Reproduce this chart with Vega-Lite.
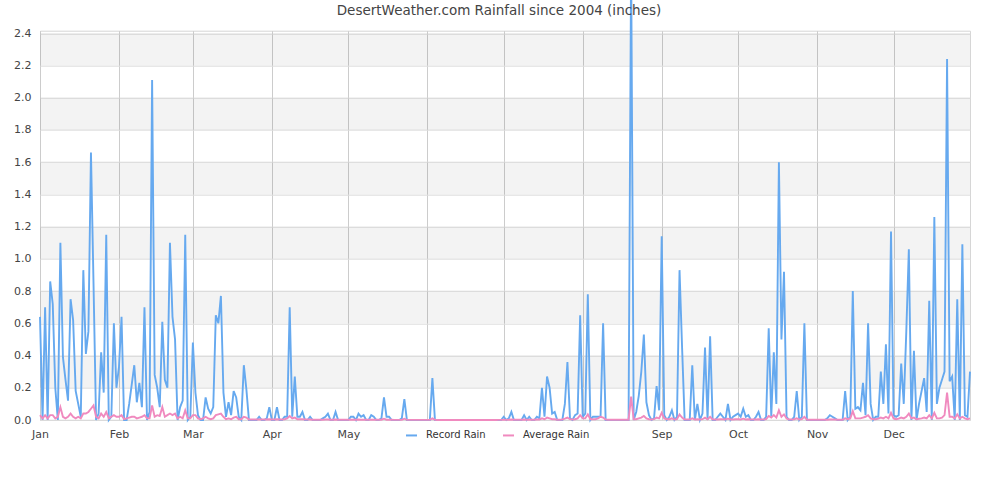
{
"$schema":"https://vega.github.io/schema/vega-lite/v6.json",
"width":930,"height":389.3,
"autosize":{"type":"none"},
"padding":{"left":40,"top":30.7,"right":30,"bottom":80},
"background":"white",
"config":{"view":{"stroke":"#d6d6d6"},"font":"DejaVu Sans"},
"title":{"text":"DesertWeather.com Rainfall since 2004 (inches)","font":"DejaVu Sans","fontSize":13.5,"fontWeight":"normal","color":"#444444","frame":"group","offset":-61,"dx":-6},
"layer":[
{"data":{"values":[{"lo":0.2,"hi":0.4},{"lo":0.6,"hi":0.8},{"lo":1.0,"hi":1.2},{"lo":1.4,"hi":1.6},{"lo":1.8,"hi":2.0},{"lo":2.2,"hi":2.4}]},
"mark":{"type":"rect","fill":"#000000","fillOpacity":0.046},
"encoding":{"y":{"field":"lo","type":"quantitative","scale":{"domain":[0,2.416],"nice":false},"axis":{"values":[0,0.2,0.4,0.6,0.8,1,1.2,1.4,1.6,1.8,2,2.2,2.4],"format":".1f","title":null,"domain":false,"ticks":false,"labelPadding":9,"gridColor":"#dddddd","labelColor":"#444444","labelFontSize":11,"labelFont":"DejaVu Sans"}},"y2":{"field":"hi"}}},
{"data":{"values":[
{"date":"2004-01-01","record":0.64,"average":0.03},
{"date":"2004-01-02","record":0,"average":0.01},
{"date":"2004-01-03","record":0.70,"average":0.03},
{"date":"2004-01-04","record":0,"average":0.01},
{"date":"2004-01-05","record":0.86,"average":0.03},
{"date":"2004-01-06","record":0.72,"average":0.03},
{"date":"2004-01-07","record":0.2,"average":0.01},
{"date":"2004-01-08","record":0,"average":0.02},
{"date":"2004-01-09","record":1.10,"average":0.08},
{"date":"2004-01-10","record":0.39,"average":0.02},
{"date":"2004-01-11","record":0.25,"average":0.01},
{"date":"2004-01-12","record":0.12,"average":0.02},
{"date":"2004-01-13","record":0.75,"average":0.04},
{"date":"2004-01-14","record":0.62,"average":0.02},
{"date":"2004-01-15","record":0.18,"average":0.01},
{"date":"2004-01-16","record":0.1,"average":0.02},
{"date":"2004-01-17","record":0.02,"average":0.01},
{"date":"2004-01-18","record":0.93,"average":0.04},
{"date":"2004-01-19","record":0.41,"average":0.04},
{"date":"2004-01-20","record":0.55,"average":0.05},
{"date":"2004-01-21","record":1.66,"average":0.07},
{"date":"2004-01-22","record":0.85,"average":0.09},
{"date":"2004-01-23","record":0,"average":0.02},
{"date":"2004-01-24","record":0.04,"average":0.01},
{"date":"2004-01-25","record":0.42,"average":0.04},
{"date":"2004-01-26","record":0.17,"average":0.02},
{"date":"2004-01-27","record":1.15,"average":0.05},
{"date":"2004-01-28","record":0,"average":0.01},
{"date":"2004-01-29","record":0.02,"average":0.02},
{"date":"2004-01-30","record":0.60,"average":0.03},
{"date":"2004-01-31","record":0.2,"average":0.02},
{"date":"2004-02-01","record":0.33,"average":0.02},
{"date":"2004-02-02","record":0.64,"average":0.03},
{"date":"2004-02-03","record":0,"average":0.005},
{"date":"2004-02-04","record":0,"average":0.01},
{"date":"2004-02-05","record":0.1,"average":0.015},
{"date":"2004-02-06","record":0.22,"average":0.02},
{"date":"2004-02-07","record":0.34,"average":0.02},
{"date":"2004-02-08","record":0.11,"average":0.01},
{"date":"2004-02-09","record":0.23,"average":0.015},
{"date":"2004-02-10","record":0.08,"average":0.02},
{"date":"2004-02-11","record":0.70,"average":0.03},
{"date":"2004-02-12","record":0,"average":0.01},
{"date":"2004-02-13","record":0.05,"average":0.01},
{"date":"2004-02-14","record":2.11,"average":0.09},
{"date":"2004-02-15","record":0.28,"average":0.02},
{"date":"2004-02-16","record":0.2,"average":0.03},
{"date":"2004-02-17","record":0.08,"average":0.025},
{"date":"2004-02-18","record":0.61,"average":0.08},
{"date":"2004-02-19","record":0.25,"average":0.02},
{"date":"2004-02-20","record":0.2,"average":0.03},
{"date":"2004-02-21","record":1.10,"average":0.04},
{"date":"2004-02-22","record":0.64,"average":0.03},
{"date":"2004-02-23","record":0.5,"average":0.04},
{"date":"2004-02-24","record":0,"average":0.01},
{"date":"2004-02-25","record":0.08,"average":0.02},
{"date":"2004-02-26","record":0.12,"average":0.01},
{"date":"2004-02-27","record":1.15,"average":0.06},
{"date":"2004-02-28","record":0,"average":0.01},
{"date":"2004-02-29","record":0.02,"average":0.01},
{"date":"2004-03-01","record":0.48,"average":0.03},
{"date":"2004-03-02","record":0.17,"average":0.03},
{"date":"2004-03-03","record":0.03,"average":0.01},
{"date":"2004-03-04","record":0,"average":0.005},
{"date":"2004-03-05","record":0,"average":0.01},
{"date":"2004-03-06","record":0.14,"average":0.02},
{"date":"2004-03-07","record":0.07,"average":0.01},
{"date":"2004-03-08","record":0.04,"average":0.005},
{"date":"2004-03-09","record":0.08,"average":0.01},
{"date":"2004-03-10","record":0.65,"average":0.03},
{"date":"2004-03-11","record":0.60,"average":0.035},
{"date":"2004-03-12","record":0.77,"average":0.04},
{"date":"2004-03-13","record":0.17,"average":0.02},
{"date":"2004-03-14","record":0.02,"average":0.005},
{"date":"2004-03-15","record":0.11,"average":0.01},
{"date":"2004-03-16","record":0.03,"average":0.005},
{"date":"2004-03-17","record":0.18,"average":0.015},
{"date":"2004-03-18","record":0.14,"average":0.02},
{"date":"2004-03-19","record":0.02,"average":0.005},
{"date":"2004-03-20","record":0,"average":0.005},
{"date":"2004-03-21","record":0.34,"average":0.02},
{"date":"2004-03-22","record":0.19,"average":0.015},
{"date":"2004-03-23","record":0,"average":0.003},
{"date":"2004-03-24","record":0,"average":0.003},
{"date":"2004-03-25","record":0,"average":0.003},
{"date":"2004-03-26","record":0,"average":0.003},
{"date":"2004-03-27","record":0.02,"average":0.003},
{"date":"2004-03-28","record":0,"average":0.003},
{"date":"2004-03-29","record":0,"average":0.003},
{"date":"2004-03-30","record":0.01,"average":0.003},
{"date":"2004-03-31","record":0.08,"average":0.005},
{"date":"2004-04-01","record":0,"average":0.003},
{"date":"2004-04-02","record":0,"average":0.003},
{"date":"2004-04-03","record":0.08,"average":0.005},
{"date":"2004-04-04","record":0,"average":0.003},
{"date":"2004-04-05","record":0,"average":0.003},
{"date":"2004-04-06","record":0.02,"average":0.005},
{"date":"2004-04-07","record":0.02,"average":0.01},
{"date":"2004-04-08","record":0.70,"average":0.025},
{"date":"2004-04-09","record":0.02,"average":0.01},
{"date":"2004-04-10","record":0.27,"average":0.015},
{"date":"2004-04-11","record":0.02,"average":0.005},
{"date":"2004-04-12","record":0.02,"average":0.005},
{"date":"2004-04-13","record":0.05,"average":0.005},
{"date":"2004-04-14","record":0,"average":0.003},
{"date":"2004-04-15","record":0,"average":0.003},
{"date":"2004-04-16","record":0.02,"average":0.003},
{"date":"2004-04-17","record":0,"average":0.002},
{"date":"2004-04-18","record":0,"average":0.002},
{"date":"2004-04-19","record":0,"average":0.002},
{"date":"2004-04-20","record":0,"average":0.002},
{"date":"2004-04-21","record":0.01,"average":0.002},
{"date":"2004-04-22","record":0.02,"average":0.003},
{"date":"2004-04-23","record":0.04,"average":0.003},
{"date":"2004-04-24","record":0,"average":0.002},
{"date":"2004-04-25","record":0,"average":0.002},
{"date":"2004-04-26","record":0.05,"average":0.003},
{"date":"2004-04-27","record":0,"average":0.002},
{"date":"2004-04-28","record":0,"average":0.002},
{"date":"2004-04-29","record":0,"average":0.002},
{"date":"2004-04-30","record":0,"average":0.002},
{"date":"2004-05-01","record":0,"average":0.002},
{"date":"2004-05-02","record":0.02,"average":0.002},
{"date":"2004-05-03","record":0.02,"average":0.002},
{"date":"2004-05-04","record":0,"average":0.002},
{"date":"2004-05-05","record":0.04,"average":0.003},
{"date":"2004-05-06","record":0.02,"average":0.002},
{"date":"2004-05-07","record":0.03,"average":0.002},
{"date":"2004-05-08","record":0,"average":0.002},
{"date":"2004-05-09","record":0,"average":0.002},
{"date":"2004-05-10","record":0.03,"average":0.002},
{"date":"2004-05-11","record":0.02,"average":0.002},
{"date":"2004-05-12","record":0,"average":0.002},
{"date":"2004-05-13","record":0,"average":0.002},
{"date":"2004-05-14","record":0.01,"average":0.002},
{"date":"2004-05-15","record":0.14,"average":0.008},
{"date":"2004-05-16","record":0.02,"average":0.002},
{"date":"2004-05-17","record":0.02,"average":0.002},
{"date":"2004-05-18","record":0,"average":0.002},
{"date":"2004-05-19","record":0,"average":0.001},
{"date":"2004-05-20","record":0,"average":0.001},
{"date":"2004-05-21","record":0,"average":0.001},
{"date":"2004-05-22","record":0.01,"average":0.001},
{"date":"2004-05-23","record":0.13,"average":0.008},
{"date":"2004-05-24","record":0,"average":0.001},
{"date":"2004-05-25","record":0,"average":0.001},
{"date":"2004-05-26","record":0,"average":0.001},
{"date":"2004-05-27","record":0,"average":0.001},
{"date":"2004-05-28","record":0,"average":0.001},
{"date":"2004-05-29","record":0,"average":0.001},
{"date":"2004-05-30","record":0,"average":0.001},
{"date":"2004-05-31","record":0,"average":0.001},
{"date":"2004-06-01","record":0,"average":0.001},
{"date":"2004-06-02","record":0,"average":0.001},
{"date":"2004-06-03","record":0.26,"average":0.01},
{"date":"2004-06-04","record":0,"average":0.001},
{"date":"2004-06-05","record":0,"average":0},
{"date":"2004-06-06","record":0,"average":0},
{"date":"2004-06-07","record":0,"average":0},
{"date":"2004-06-08","record":0,"average":0},
{"date":"2004-06-09","record":0,"average":0},
{"date":"2004-06-10","record":0,"average":0},
{"date":"2004-06-11","record":0,"average":0},
{"date":"2004-06-12","record":0,"average":0},
{"date":"2004-06-13","record":0,"average":0},
{"date":"2004-06-14","record":0,"average":0},
{"date":"2004-06-15","record":0,"average":0},
{"date":"2004-06-16","record":0,"average":0},
{"date":"2004-06-17","record":0,"average":0},
{"date":"2004-06-18","record":0,"average":0},
{"date":"2004-06-19","record":0,"average":0},
{"date":"2004-06-20","record":0,"average":0},
{"date":"2004-06-21","record":0,"average":0},
{"date":"2004-06-22","record":0,"average":0},
{"date":"2004-06-23","record":0,"average":0},
{"date":"2004-06-24","record":0,"average":0},
{"date":"2004-06-25","record":0,"average":0},
{"date":"2004-06-26","record":0,"average":0},
{"date":"2004-06-27","record":0,"average":0},
{"date":"2004-06-28","record":0,"average":0},
{"date":"2004-06-29","record":0,"average":0.001},
{"date":"2004-06-30","record":0,"average":0.001},
{"date":"2004-07-01","record":0.02,"average":0.002},
{"date":"2004-07-02","record":0,"average":0.001},
{"date":"2004-07-03","record":0.01,"average":0.002},
{"date":"2004-07-04","record":0.05,"average":0.003},
{"date":"2004-07-05","record":0,"average":0.002},
{"date":"2004-07-06","record":0,"average":0.002},
{"date":"2004-07-07","record":0,"average":0.002},
{"date":"2004-07-08","record":0,"average":0.002},
{"date":"2004-07-09","record":0.03,"average":0.003},
{"date":"2004-07-10","record":0,"average":0.002},
{"date":"2004-07-11","record":0.02,"average":0.002},
{"date":"2004-07-12","record":0,"average":0.002},
{"date":"2004-07-13","record":0,"average":0.002},
{"date":"2004-07-14","record":0.02,"average":0.003},
{"date":"2004-07-15","record":0.01,"average":0.003},
{"date":"2004-07-16","record":0.20,"average":0.01},
{"date":"2004-07-17","record":0.02,"average":0.005},
{"date":"2004-07-18","record":0.27,"average":0.015},
{"date":"2004-07-19","record":0.2,"average":0.01},
{"date":"2004-07-20","record":0.04,"average":0.005},
{"date":"2004-07-21","record":0.05,"average":0.005},
{"date":"2004-07-22","record":0,"average":0.002},
{"date":"2004-07-23","record":0,"average":0.002},
{"date":"2004-07-24","record":0,"average":0.003},
{"date":"2004-07-25","record":0.1,"average":0.008},
{"date":"2004-07-26","record":0.36,"average":0.015},
{"date":"2004-07-27","record":0.01,"average":0.005},
{"date":"2004-07-28","record":0,"average":0.003},
{"date":"2004-07-29","record":0.03,"average":0.005},
{"date":"2004-07-30","record":0.04,"average":0.01},
{"date":"2004-07-31","record":0.65,"average":0.03},
{"date":"2004-08-01","record":0.02,"average":0.01},
{"date":"2004-08-02","record":0.04,"average":0.01},
{"date":"2004-08-03","record":0.78,"average":0.035},
{"date":"2004-08-04","record":0,"average":0.005},
{"date":"2004-08-05","record":0.02,"average":0.005},
{"date":"2004-08-06","record":0.02,"average":0.005},
{"date":"2004-08-07","record":0.02,"average":0.01},
{"date":"2004-08-08","record":0.02,"average":0.02},
{"date":"2004-08-09","record":0.60,"average":0.015},
{"date":"2004-08-10","record":0,"average":0.003},
{"date":"2004-08-11","record":0,"average":0.002},
{"date":"2004-08-12","record":0,"average":0.002},
{"date":"2004-08-13","record":0,"average":0.002},
{"date":"2004-08-14","record":0,"average":0.002},
{"date":"2004-08-15","record":0,"average":0.002},
{"date":"2004-08-16","record":0,"average":0.002},
{"date":"2004-08-17","record":0,"average":0.002},
{"date":"2004-08-18","record":0,"average":0.002},
{"date":"2004-08-19","record":0,"average":0.002},
{"date":"2004-08-20","record":2.85,"average":0.145},
{"date":"2004-08-21","record":0,"average":0.005},
{"date":"2004-08-22","record":0.05,"average":0.005},
{"date":"2004-08-23","record":0.15,"average":0.01},
{"date":"2004-08-24","record":0.3,"average":0.015},
{"date":"2004-08-25","record":0.53,"average":0.025},
{"date":"2004-08-26","record":0.11,"average":0.01},
{"date":"2004-08-27","record":0.03,"average":0.005},
{"date":"2004-08-28","record":0,"average":0.003},
{"date":"2004-08-29","record":0.01,"average":0.005},
{"date":"2004-08-30","record":0.21,"average":0.015},
{"date":"2004-08-31","record":0.06,"average":0.01},
{"date":"2004-09-01","record":1.14,"average":0.045},
{"date":"2004-09-02","record":0.03,"average":0.01},
{"date":"2004-09-03","record":0,"average":0.005},
{"date":"2004-09-04","record":0.02,"average":0.005},
{"date":"2004-09-05","record":0.06,"average":0.01},
{"date":"2004-09-06","record":0,"average":0.003},
{"date":"2004-09-07","record":0.02,"average":0.005},
{"date":"2004-09-08","record":0.93,"average":0.035},
{"date":"2004-09-09","record":0.45,"average":0.015},
{"date":"2004-09-10","record":0,"average":0.003},
{"date":"2004-09-11","record":0,"average":0.003},
{"date":"2004-09-12","record":0,"average":0.003},
{"date":"2004-09-13","record":0.34,"average":0.01},
{"date":"2004-09-14","record":0,"average":0.003},
{"date":"2004-09-15","record":0.10,"average":0.005},
{"date":"2004-09-16","record":0,"average":0.003},
{"date":"2004-09-17","record":0.04,"average":0.005},
{"date":"2004-09-18","record":0.45,"average":0.015},
{"date":"2004-09-19","record":0,"average":0.005},
{"date":"2004-09-20","record":0.52,"average":0.02},
{"date":"2004-09-21","record":0,"average":0.003},
{"date":"2004-09-22","record":0,"average":0.003},
{"date":"2004-09-23","record":0.02,"average":0.003},
{"date":"2004-09-24","record":0.04,"average":0.005},
{"date":"2004-09-25","record":0.02,"average":0.005},
{"date":"2004-09-26","record":0,"average":0.003},
{"date":"2004-09-27","record":0.10,"average":0.008},
{"date":"2004-09-28","record":0,"average":0.003},
{"date":"2004-09-29","record":0.02,"average":0.003},
{"date":"2004-09-30","record":0.03,"average":0.005},
{"date":"2004-10-01","record":0.04,"average":0.005},
{"date":"2004-10-02","record":0.02,"average":0.003},
{"date":"2004-10-03","record":0.07,"average":0.008},
{"date":"2004-10-04","record":0.02,"average":0.003},
{"date":"2004-10-05","record":0.03,"average":0.005},
{"date":"2004-10-06","record":0,"average":0.003},
{"date":"2004-10-07","record":0,"average":0.003},
{"date":"2004-10-08","record":0.02,"average":0.003},
{"date":"2004-10-09","record":0.05,"average":0.005},
{"date":"2004-10-10","record":0,"average":0.003},
{"date":"2004-10-11","record":0,"average":0.003},
{"date":"2004-10-12","record":0.02,"average":0.005},
{"date":"2004-10-13","record":0.57,"average":0.025},
{"date":"2004-10-14","record":0.02,"average":0.015},
{"date":"2004-10-15","record":0.42,"average":0.03},
{"date":"2004-10-16","record":0.10,"average":0.015},
{"date":"2004-10-17","record":1.60,"average":0.06},
{"date":"2004-10-18","record":0.50,"average":0.02},
{"date":"2004-10-19","record":0.92,"average":0.035},
{"date":"2004-10-20","record":0.02,"average":0.01},
{"date":"2004-10-21","record":0,"average":0.003},
{"date":"2004-10-22","record":0,"average":0.003},
{"date":"2004-10-23","record":0.02,"average":0.005},
{"date":"2004-10-24","record":0.18,"average":0.01},
{"date":"2004-10-25","record":0,"average":0.003},
{"date":"2004-10-26","record":0.02,"average":0.005},
{"date":"2004-10-27","record":0.60,"average":0.02},
{"date":"2004-10-28","record":0,"average":0.002},
{"date":"2004-10-29","record":0,"average":0.002},
{"date":"2004-10-30","record":0,"average":0.002},
{"date":"2004-10-31","record":0,"average":0.002},
{"date":"2004-11-01","record":0,"average":0.002},
{"date":"2004-11-02","record":0,"average":0.002},
{"date":"2004-11-03","record":0,"average":0.002},
{"date":"2004-11-04","record":0,"average":0.002},
{"date":"2004-11-05","record":0.01,"average":0.002},
{"date":"2004-11-06","record":0.03,"average":0.003},
{"date":"2004-11-07","record":0.02,"average":0.003},
{"date":"2004-11-08","record":0.01,"average":0.003},
{"date":"2004-11-09","record":0,"average":0.002},
{"date":"2004-11-10","record":0,"average":0.002},
{"date":"2004-11-11","record":0,"average":0.002},
{"date":"2004-11-12","record":0.18,"average":0.01},
{"date":"2004-11-13","record":0,"average":0.005},
{"date":"2004-11-14","record":0.02,"average":0.01},
{"date":"2004-11-15","record":0.80,"average":0.055},
{"date":"2004-11-16","record":0.07,"average":0.01},
{"date":"2004-11-17","record":0.08,"average":0.01},
{"date":"2004-11-18","record":0.06,"average":0.01},
{"date":"2004-11-19","record":0.23,"average":0.015},
{"date":"2004-11-20","record":0.03,"average":0.02},
{"date":"2004-11-21","record":0.60,"average":0.03},
{"date":"2004-11-22","record":0.1,"average":0.01},
{"date":"2004-11-23","record":0,"average":0.005},
{"date":"2004-11-24","record":0.02,"average":0.005},
{"date":"2004-11-25","record":0.02,"average":0.008},
{"date":"2004-11-26","record":0.30,"average":0.015},
{"date":"2004-11-27","record":0.10,"average":0.01},
{"date":"2004-11-28","record":0.47,"average":0.02},
{"date":"2004-11-29","record":0.04,"average":0.01},
{"date":"2004-11-30","record":1.17,"average":0.045},
{"date":"2004-12-01","record":0.03,"average":0.01},
{"date":"2004-12-02","record":0.02,"average":0.005},
{"date":"2004-12-03","record":0.03,"average":0.008},
{"date":"2004-12-04","record":0.35,"average":0.015},
{"date":"2004-12-05","record":0.10,"average":0.01},
{"date":"2004-12-06","record":0.55,"average":0.02},
{"date":"2004-12-07","record":1.06,"average":0.04},
{"date":"2004-12-08","record":0,"average":0.01},
{"date":"2004-12-09","record":0.43,"average":0.015},
{"date":"2004-12-10","record":0,"average":0.005},
{"date":"2004-12-11","record":0.1,"average":0.008},
{"date":"2004-12-12","record":0.18,"average":0.01},
{"date":"2004-12-13","record":0.26,"average":0.015},
{"date":"2004-12-14","record":0.05,"average":0.01},
{"date":"2004-12-15","record":0.74,"average":0.03},
{"date":"2004-12-16","record":0,"average":0.01},
{"date":"2004-12-17","record":1.26,"average":0.045},
{"date":"2004-12-18","record":0.10,"average":0.01},
{"date":"2004-12-19","record":0.2,"average":0.01},
{"date":"2004-12-20","record":0.25,"average":0.015},
{"date":"2004-12-21","record":0.3,"average":0.03},
{"date":"2004-12-22","record":2.24,"average":0.17},
{"date":"2004-12-23","record":0.24,"average":0.02},
{"date":"2004-12-24","record":0.27,"average":0.02},
{"date":"2004-12-25","record":0,"average":0.01},
{"date":"2004-12-26","record":0.75,"average":0.035},
{"date":"2004-12-27","record":0,"average":0.01},
{"date":"2004-12-28","record":1.09,"average":0.02},
{"date":"2004-12-29","record":0.03,"average":0.01},
{"date":"2004-12-30","record":0.02,"average":0.005},
{"date":"2004-12-31","record":0.30,"average":0.01}
]},
"transform":[{"fold":["record","average"],"as":["series","inches"]}],
"mark":{"type":"line","strokeWidth":1.9,"interpolate":"linear"},
"encoding":{
"x":{"field":"date","type":"temporal","scale":{"type":"utc","nice":false,"domain":[{"year":2004,"month":1,"date":1,"utc":true},{"year":2004,"month":12,"date":31,"utc":true}]},"axis":{"tickCount":{"interval":"month","step":1},"format":"%b","labelExpr":"utcmonth(datum.value) >= 5 && utcmonth(datum.value) <= 7 ? '' : datum.label","title":null,"domain":false,"ticks":false,"labelPadding":8,"gridColor":"#cccccc","labelColor":"#444444","labelFontSize":11,"labelFont":"DejaVu Sans","labelFlush":false,"labelOverlap":false}},
"y":{"field":"inches","type":"quantitative","scale":{"domain":[0,2.416],"nice":false},"axis":{"values":[0,0.2,0.4,0.6,0.8,1,1.2,1.4,1.6,1.8,2,2.2,2.4],"format":".1f","title":null,"domain":false,"ticks":false,"labelPadding":9,"gridColor":"#dddddd","labelColor":"#444444","labelFontSize":11,"labelFont":"DejaVu Sans"}},
"color":{"field":"series","type":"nominal","scale":{"domain":["record","average"],"range":["#66a9ef","#f08abf"]},"legend":{"title":null,"orient":"none","legendX":365,"legendY":398,"direction":"horizontal","symbolType":"stroke","symbolSize":121,"symbolStrokeWidth":2,"labelFontSize":10,"labelFont":"DejaVu Sans","labelColor":"#333333","labelOffset":8,"columnPadding":13,"labelExpr":"datum.value == 'record' ? 'Record Rain' : 'Average Rain'"}}
}}
]
}
